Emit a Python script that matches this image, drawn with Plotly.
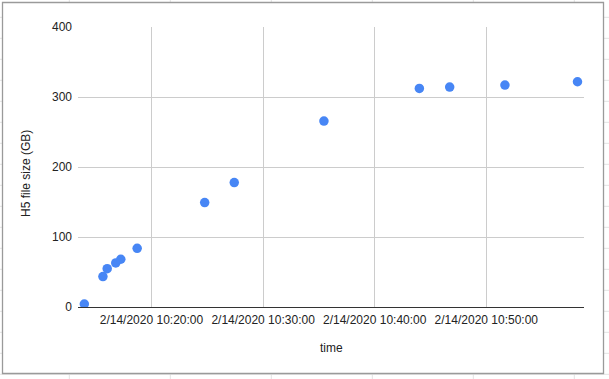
import plotly.graph_objects as go

times = [
    "2020-02-14 10:13:59", "2020-02-14 10:15:39", "2020-02-14 10:16:02",
    "2020-02-14 10:16:48", "2020-02-14 10:17:15", "2020-02-14 10:18:43",
    "2020-02-14 10:24:46", "2020-02-14 10:27:25", "2020-02-14 10:35:27",
    "2020-02-14 10:44:00", "2020-02-14 10:46:43", "2020-02-14 10:51:40",
    "2020-02-14 10:58:10",
]
sizes_gb = [4.3, 43.4, 54.8, 62.9, 68.2, 83.9, 149.2, 177.8, 265.6, 312.3, 314.2, 317.0, 321.8]
x_ticks = ["2020-02-14 10:20:00", "2020-02-14 10:30:00", "2020-02-14 10:40:00", "2020-02-14 10:50:00"]
x_tick_labels = ["2/14/2020 10:20:00", "2/14/2020 10:30:00", "2/14/2020 10:40:00", "2/14/2020 10:50:00"]
y_ticks = [0, 100, 200, 300, 400]

W, H = 609, 379
L, R, T, B = 78, 25, 27, 72
PW, PH = W - L - R, H - T - B


def px(x):
    return (x - L) / PW


def py(y):
    return (H - B - y) / PH


FONT = "Liberation Sans, Arial, sans-serif"

fig = go.Figure()
fig.add_trace(go.Scatter(
    x=times, y=sizes_gb, mode="markers",
    marker=dict(color="#4786F5", size=9.5, line=dict(width=0)),
    showlegend=False,
))

shapes = []
# spreadsheet cell grid behind the chart
for k in range(6):
    xv = 69.3 + 101 * k
    shapes.append(dict(type="line", xref="paper", yref="paper", x0=px(xv), x1=px(xv),
                       y0=py(0), y1=py(H), line=dict(color="#e3e3e3", width=1), layer="below"))
for k in range(18):
    yv = 17.3 + 21 * k
    shapes.append(dict(type="line", xref="paper", yref="paper", x0=px(0), x1=px(W),
                       y0=py(yv), y1=py(yv), line=dict(color="#e3e3e3", width=1), layer="below"))
# chart card
shapes.append(dict(type="rect", xref="paper", yref="paper", x0=px(2.5), x1=px(603.5),
                   y0=py(373.5), y1=py(2.5), fillcolor="white",
                   line=dict(color="#9a9a9a", width=1.3), layer="below"))

fig.update_layout(
    width=W, height=H,
    margin=dict(l=L, r=R, t=T, b=B, pad=0),
    paper_bgcolor="white", plot_bgcolor="rgba(0,0,0,0)",
    font=dict(family=FONT, size=12, color="#222222"),
    shapes=shapes,
    xaxis=dict(
        range=["2020-02-14 10:13:25", "2020-02-14 10:58:45"],
        tickmode="array", tickvals=x_ticks, ticktext=x_tick_labels,
        showgrid=True, gridcolor="#cccccc", gridwidth=1,
        showline=True, linecolor="#333333", linewidth=1,
        zeroline=False, ticks="", tickfont=dict(size=12, color="#222222"),
        ticklabelstandoff=2,
    ),
    yaxis=dict(
        range=[0, 400], tickmode="array", tickvals=y_ticks,
        showgrid=True, gridcolor="#cccccc", gridwidth=1,
        zeroline=False, showline=False, ticks="",
        tickfont=dict(size=12, color="#222222"),
        ticklabelstandoff=5,
    ),
    annotations=[
        dict(text="time", xref="paper", yref="paper", x=px(331), y=py(348),
             showarrow=False, font=dict(size=12, color="#222222"),
             xanchor="center", yanchor="middle"),
        dict(text="H5 file size (GB)", xref="paper", yref="paper", x=px(26.5), y=py(173.5),
             showarrow=False, textangle=-90, font=dict(size=12, color="#222222"),
             xanchor="center", yanchor="middle"),
    ],
)

fig.write_html("out.html")
